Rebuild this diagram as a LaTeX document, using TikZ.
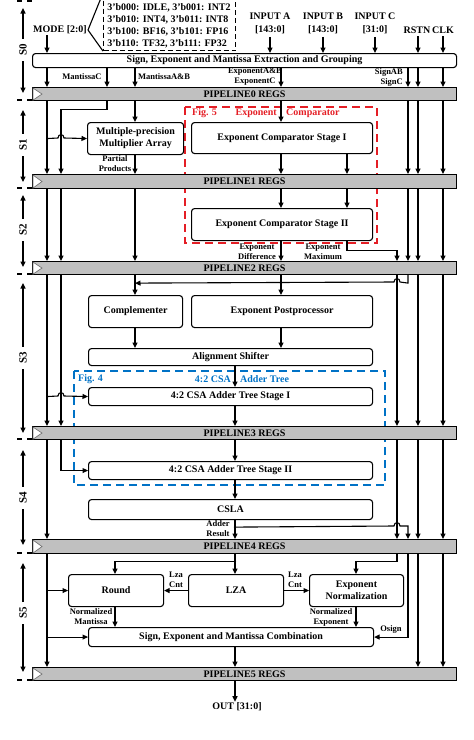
\documentclass[tikz,border=0pt]{standalone}
\usepackage{fontspec}
\setmainfont{Liberation Serif}
\usetikzlibrary{arrows.meta,calc}
\definecolor{regfill}{RGB}{192,192,192}
\definecolor{figred}{RGB}{228,30,37}
\definecolor{figblue}{RGB}{0,114,198}
\begin{document}
\begin{tikzpicture}[x=1pt,y=-1pt,
 font=\bfseries\fontsize{10}{12}\selectfont,
 box/.style={draw,line width=1.1pt,rounded corners=3pt,fill=white,inner sep=0pt,anchor=north west,align=center},
 reg/.style={draw,line width=1.1pt,fill=regfill,inner sep=0pt,anchor=north west,minimum width=424pt},
 arr/.style={line width=1.1pt,-{Triangle[length=5.5pt,width=5pt]}},
 wire/.style={line width=1.1pt},
 lab/.style={inner sep=1pt,align=center},
 toplab/.style={inner sep=1pt,outer sep=2pt,align=center,font=\bfseries\fontsize{10}{13}\selectfont},
 small/.style={inner sep=0pt,align=center,font=\bfseries\fontsize{8.5}{10}\selectfont},
 sep/.style={line width=1.1pt,dash pattern=on 5pt off 5pt},
 clk/.style={draw=black!55,line width=0.7pt,fill=white},
 dot/.style={circle,fill,inner sep=0pt,minimum size=2.4pt},
 redframe/.style={color=figred,line width=1.4pt,dash pattern=on 8pt off 5pt},
 blueframe/.style={color=figblue,line width=1.4pt,dash pattern=on 8pt off 5pt},
]
\useasboundingbox (0,0) rectangle (474,740);

% lanes
\coordinate (xA) at (47,0);
\coordinate (xB) at (61,0);
\coordinate (xC) at (107,0);
\coordinate (xD) at (135,0);
\coordinate (xN) at (115,0);
\coordinate (xM) at (235,0);
\coordinate (xE) at (281,0);
\coordinate (xF) at (347,0);
\coordinate (xX) at (356,0);
\coordinate (xG) at (397,0);
\coordinate (xS) at (408,0);
\coordinate (xR) at (418,0);
\coordinate (xK) at (443,0);

% dashed frames
\coordinate (f5tl) at (185,107);
\coordinate (f5br) at (377,243);
\draw[redframe] (f5tl) rectangle (f5br);
\coordinate (f4tl) at (74,371);
\coordinate (f4br) at (385,485);
\draw[blueframe] (f4tl) rectangle (f4br);

% mode
\node[draw,dash pattern=on 5pt off 3pt,line width=1.1pt,anchor=north west,minimum width=132pt,minimum height=57pt,inner sep=0pt] (modes) at (103,-7) {};
\node[inner sep=0pt,align=left] (modetxt) at (169,26) {3'b000: IDLE, 3'b001: INT2\\3'b010: INT4, 3'b011: INT8\\3'b100: BF16, 3'b101: FP16\\3'b110: TF32, 3'b111: FP32};
\node[lab] (mode) at (60,30) {MODE [2:0]};
\draw[wire] (mode.east) -- (modes.north west);
\draw[wire] (mode.east) -- (modes.south west);

% top inputs
\node[toplab] (inA) at (270,23.5) {INPUT A\\{}[143:0]};
\node[toplab] (inB) at (323,23.5) {INPUT B\\{}[143:0]};
\node[toplab] (inC) at (375,23.5) {INPUT C\\{}[31:0]};
\node[toplab] (rst) at (417,30) {RSTN};
\node[toplab] (clk) at (443,30) {CLK};

% main boxes
\node[box,minimum width=424pt,minimum height=14pt] (ext) at (32,53) {Sign, Exponent and Mantissa Extraction and Grouping};
\node[reg,minimum height=13pt] (p0) at (32,87) {PIPELINE0 REGS};
\node[reg,minimum height=14pt] (p1) at (32,174) {PIPELINE1 REGS};
\node[reg,minimum height=13pt] (p2) at (32,261) {PIPELINE2 REGS};
\node[reg,minimum height=13pt] (p3) at (32,426) {PIPELINE3 REGS};
\node[reg,minimum height=14pt] (p4) at (32,539) {PIPELINE4 REGS};
\node[reg,minimum height=13pt] (p5) at (32,667) {PIPELINE5 REGS};
\foreach \p in {p0,p1,p2,p3,p4,p5}{
  \draw[clk] ($(\p.north west)+(1,1)$) -- ($(\p.west)+(10,0)$) -- ($(\p.south west)+(1,-1)$) -- cycle;
}

\node[box,minimum width=96pt,minimum height=32pt] (mult) at (87,122) {Multiple-precision\\Multiplier Array};
\node[box,minimum width=181pt,minimum height=31pt] (ec1) at (191,122) {Exponent Comparator Stage I};
\node[box,minimum width=181pt,minimum height=32pt] (ec2) at (191,208) {Exponent Comparator Stage II};
\node[box,minimum width=94pt,minimum height=32pt] (comp) at (88,295) {Complementer};
\node[box,minimum width=181pt,minimum height=32pt] (post) at (191,295) {Exponent Postprocessor};
\node[box,minimum width=284pt,minimum height=17pt] (align) at (88,348) {Alignment Shifter};
\node[box,minimum width=284pt,minimum height=18pt] (csa1) at (88,387) {4:2 CSA Adder Tree Stage I};
\node[box,minimum width=284pt,minimum height=18pt] (csa2) at (88,461) {4:2 CSA Adder Tree Stage II};
\node[box,minimum width=284pt,minimum height=20pt] (csla) at (88,499) {CSLA};
\node[box,minimum width=95pt,minimum height=32pt] (round) at (68,574) {Round};
\node[box,minimum width=95pt,minimum height=32pt] (lza) at (188,574) {LZA};
\node[box,minimum width=94pt,minimum height=32pt] (enorm) at (309,574) {Exponent\\Normalization};
\node[box,minimum width=285pt,minimum height=19pt] (comb) at (88,627) {Sign, Exponent and Mantissa Combination};
\node[lab] (out) at (237,707) {OUT [31:0]};

% frame titles
\node[lab,text=figred,anchor=west] (f5) at (191,113) {Fig. 5};
\node[lab,text=figred,anchor=east] (f5a) at (278,113) {Exponent};
\node[lab,text=figred,anchor=west] (f5b) at (285,113) {Comparator};
\node[lab,text=figblue,anchor=west] (f4) at (77,379) {Fig. 4};
\node[lab,text=figblue,anchor=east] (f4a) at (232,379) {4:2 CSA};
\node[lab,text=figblue,anchor=west] (f4b) at (239,379) {Adder Tree};

% top arrows
\draw[arr] (mode.south -| xA) -- (ext.north -| xA);
\draw[arr] (inA.south) -- (inA.south |- ext.north);
\draw[arr] (inB.south) -- (inB.south |- ext.north);
\draw[arr] (inC.south) -- (inC.south |- ext.north);
\draw[arr] (rst.south -| xR) -- (ext.north -| xR);
\draw[arr] (clk.south -| xK) -- (ext.north -| xK);

% ext -> p0
\foreach \l in {xA,xC,xD,xE,xS,xR,xK} \draw[arr] (ext.south -| \l) -- (p0.north -| \l);

% p0 ->
\draw[arr] (p0.south -| xA) -- (p1.north -| xA);
\draw[arr] (p0.south -| xC) -- ++(0,8) -| (p1.north -| xB);
\draw[arr] (p0.south -| xD) -- (mult.north -| xD);
\draw[arr] (p0.south -| xE) -- (ec1.north -| xE);
\foreach \l in {xS,xR,xK} \draw[arr] (p0.south -| \l) -- (p1.north -| \l);
\draw[arr] (mult.west -| xA) -- (58,138) .. controls (58,133.5) and (64,133.5) .. (64,138) -- (mult.west);

% -> p1
\draw[arr] (mult.south -| xD) -- (p1.north -| xD);
\draw[arr] (ec1.south -| xE) -- (p1.north -| xE);
\draw[arr] (ec1.south -| xF) -- (p1.north -| xF);

% p1 ->
\foreach \l in {xA,xB,xD,xS,xR,xK} \draw[arr] (p1.south -| \l) -- (p2.north -| \l);
\draw[arr] (p1.south -| xE) -- (ec2.north -| xE);
\draw[arr] (p1.south -| xF) -- (ec2.north -| xF);

% -> p2
\draw[arr] (ec2.south -| xE) -- (p2.north -| xE);
\draw[arr] (ec2.south -| xF) -- ++(0,9) -| (p2.north -| xG);

% p2 ->
\draw[arr] (p2.south -| xA) -- (p3.north -| xA);
\draw[arr] (p2.south -| xB) -- (p3.north -| xB);
\draw[arr] (csa1.west -| xA) -- (58,396) .. controls (58,391.5) and (64,391.5) .. (64,396) -- (csa1.west);
\draw[arr] (p2.south -| xD) -- (comp.north -| xD);
\draw[arr] (p2.south -| xE) -- (post.north -| xE);
\draw[arr] (p2.south -| xS) -- ++(0,8) -- (400,282) .. controls (400,277.5) and (394,277.5) .. (394,282) -- ($(p2.south -| xD)+(0,8)$);
\node[dot] (j1) at ($(p2.south -| xE)+(0,8)$) {};
\foreach \l in {xG,xR,xK} \draw[arr] (p2.south -| \l) -- (p3.north -| \l);

% stage 3
\draw[arr] (comp.south -| xD) -- (align.north -| xD);
\draw[arr] (post.south -| xE) -- (align.north -| xE);
\draw[arr] (align.south -| xM) -- (csa1.north -| xM);
\draw[arr] (csa1.south -| xM) -- (p3.north -| xM);

% p3 ->
\draw[arr] (p3.south -| xA) -- (p4.north -| xA);
\draw[arr] (p3.south -| xB) |- (csa2.west);
\draw[arr] (p3.south -| xM) -- (csa2.north -| xM);
\draw[arr] (csa2.south -| xM) -- (csla.north -| xM);
\draw[arr] (csla.south -| xM) -- (p4.north -| xM);
\draw[arr] ($(csla.south -| xM)+(0,7)$) -- (394,526) .. controls (394,521.5) and (400,521.5) .. (400,526) -| (p4.north -| xS);
\node[dot] (j2) at ($(csla.south -| xM)+(0,7)$) {};
\foreach \l in {xG,xR,xK} \draw[arr] (p3.south -| \l) -- (p4.north -| \l);

% p4 ->
\draw[arr] (p4.south -| xA) -- (p5.north -| xA);
\draw[arr] (round.west -| xA) -- (round.west);
\draw[arr] (comb.west -| xA) -- (comb.west);
\draw[arr] (p4.south -| xM) -- (lza.north -| xM);
\draw[arr] ($(p4.south -| xM)+(0,7)$) -| (round.north -| xN);
\node[dot] (j3) at ($(p4.south -| xM)+(0,7)$) {};
\draw[arr] (p4.south -| xG) -- ++(0,7) -| (enorm.north -| xX);
\draw[arr] (p4.south -| xS) |- (comb.east);
\foreach \l in {xR,xK} \draw[arr] (p4.south -| \l) -- (p5.north -| \l);
\draw[arr] (lza.west) -- (round.east);
\draw[arr] (lza.east) -- (enorm.west);
\draw[arr] (round.south -| xN) -- (comb.north -| xN);
\draw[arr] (enorm.south -| xX) -- (comb.north -| xX);
\draw[arr] (comb.south -| xM) -- (p5.north -| xM);
\draw[arr] (p5.south -| xM) -- (out.north -| xM);

% small labels
\node[small] (lmc) at (82,77) {MantissaC};
\node[small] (lmab) at (164,77) {MantissaA\&B};
\node[small] (lexp) at (255,77) {ExponentA\&B\\ExponentC};
\node[small,align=right,anchor=east] (lsign) at (403,77) {SignAB\\SignC};
\node[small] (lpp) at (115,164) {Partial\\Products};
\node[small] (ldiff) at (257,252) {Exponent\\Difference};
\node[small] (lmax) at (323,252) {Exponent\\Maximum};
\node[small] (lres) at (218,529) {Adder\\Result};
\node[small] (llz1) at (176,580) {Lza\\Cnt};
\node[small] (llz2) at (295,580) {Lza\\Cnt};
\node[small] (lnm) at (91,617) {Normalized\\Mantissa};
\node[small] (lne) at (331,617) {Normalized\\Exponent};
\node[small] (losg) at (391,629) {Osign};

% stage markers
\foreach \y in {1,100,188,274,439,553,680} \draw[sep] (17,\y) -- (32,\y);
\foreach \s/\t/\m/\b in {S0/8/50/93,S1/110/145/182,S2/195/230/267,S3/283/358/433,S4/450/498/545,S5/563/613/672}{
  \node[inner sep=5pt,rotate=90,font=\bfseries\fontsize{11}{12}\selectfont] (st\s) at (23,\m) {\s};
  \coordinate (stt\s) at (23,\t);
  \coordinate (stb\s) at (23,\b);
  \draw[arr] (st\s.east) -- (stt\s);
  \draw[arr] (st\s.west) -- (stb\s);
}
\end{tikzpicture}
\end{document}
